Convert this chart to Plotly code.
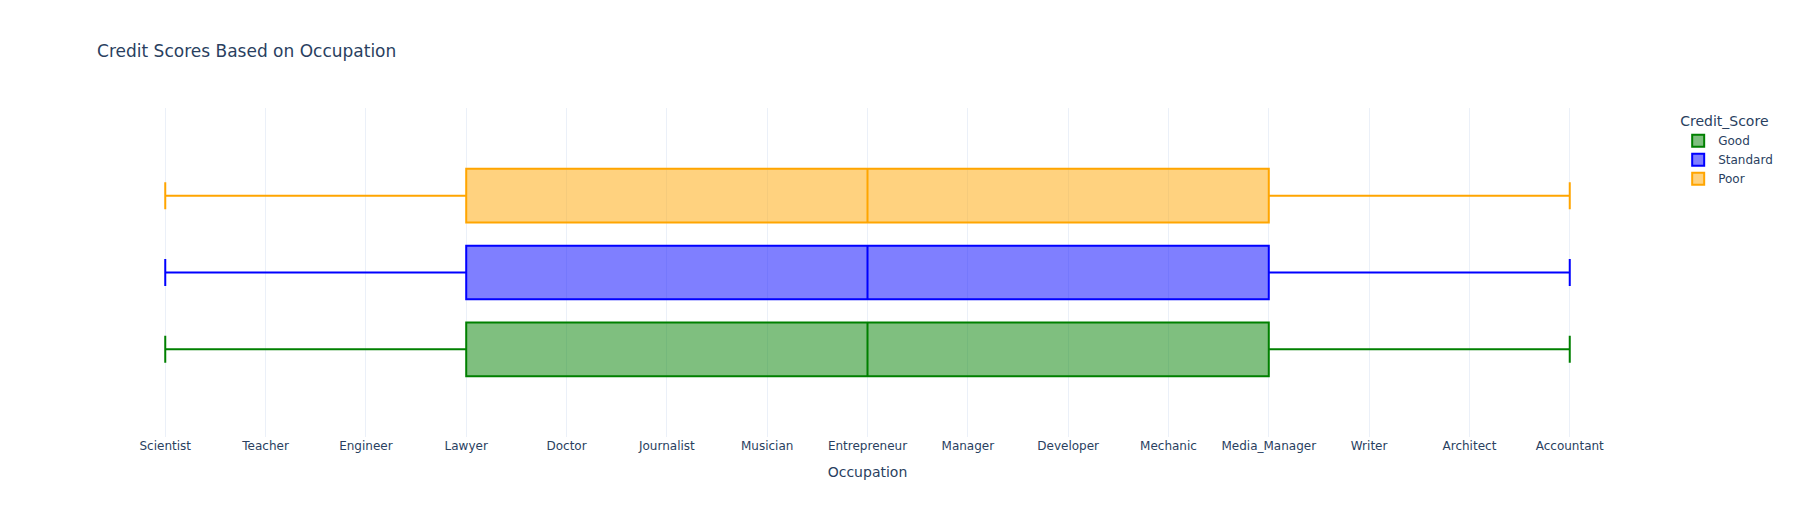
import plotly.graph_objects as go

occupations = ["Scientist", "Teacher", "Engineer", "Lawyer", "Doctor", "Journalist",
               "Musician", "Entrepreneur", "Manager", "Developer", "Mechanic",
               "Media_Manager", "Writer", "Architect", "Accountant"]

credit_scores = ["Good", "Standard", "Poor"]
score_colors = ["green", "blue", "orange"]

good_occupations = list(occupations)
standard_occupations = list(occupations)
poor_occupations = list(occupations)
series = [good_occupations, standard_occupations, poor_occupations]

fig = go.Figure()
for name, color, vals in zip(credit_scores, score_colors, series):
    fig.add_trace(go.Box(
        x=vals, y0=" ", name=name, legendgroup=name, marker_color=color,
        orientation="h", offsetgroup=name, alignmentgroup="True",
        quartilemethod="exclusive", boxpoints="outliers", showlegend=True,
    ))

fig.update_layout(
    template="plotly_white",
    font=dict(family="Verdana, DejaVu Sans, sans-serif"),
    title=dict(text="Credit Scores Based on Occupation", x=0.05, xanchor="left",
               y=0.916, yanchor="middle", xref="container", yref="container"),
    boxmode="group",
    legend=dict(title=dict(text="Credit_Score"), tracegroupgap=0),
    xaxis=dict(title=dict(text="Occupation"), categoryorder="array",
               categoryarray=occupations, range=[-0.77, 14.77]),
    yaxis=dict(showticklabels=False),
)
fig.write_html("out.html")
